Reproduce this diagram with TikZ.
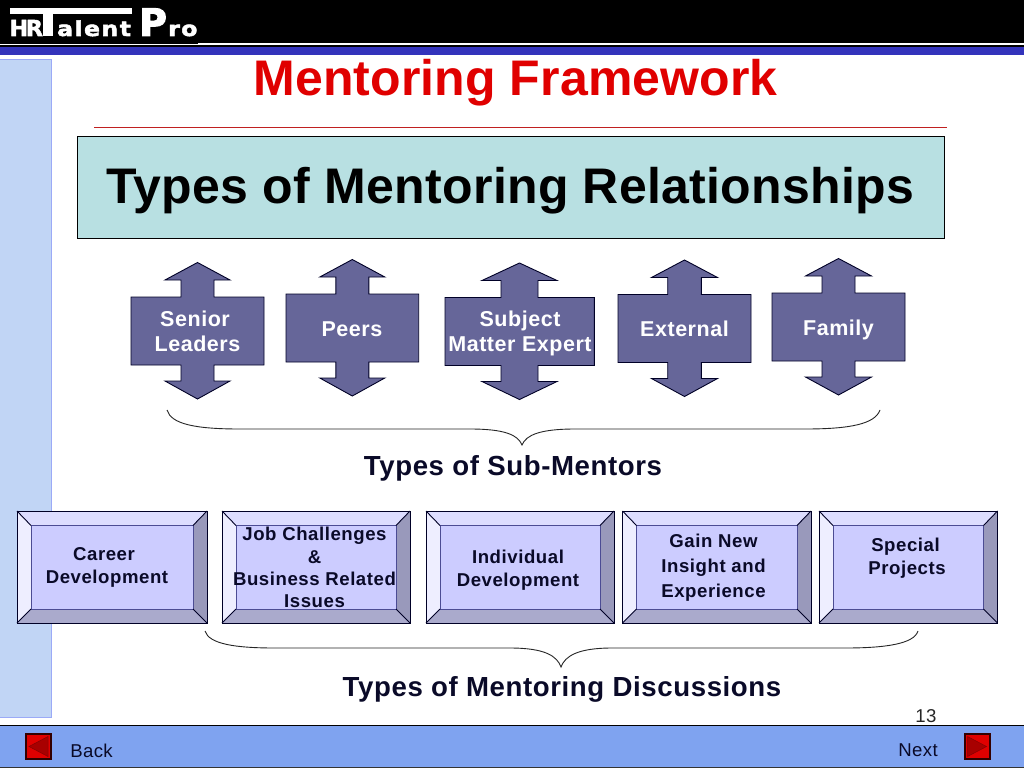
\documentclass[tikz,border=0pt]{standalone}
\usepackage{fontspec}
\setmainfont{Liberation Sans}
\newfontfamily\logofont[FakeBold=2.5]{DejaVu Sans Bold}
\newfontfamily\logowide[FakeBold=2.5,FakeStretch=1.15,LetterSpace=7]{DejaVu Sans Bold}
\newfontfamily\logotight[FakeBold=2.5,LetterSpace=-10]{DejaVu Sans Bold}
\newfontfamily\headfont[LetterSpace=2.2]{Liberation Sans Bold}
\newfontfamily\bigfont[LetterSpace=0.6]{Liberation Sans Bold}
\newfontfamily\titlefont[LetterSpace=0.2]{Liberation Sans Bold}
\newfontfamily\arrowfont[LetterSpace=2.5]{Liberation Sans Bold}
\newfontfamily\bevelfont[LetterSpace=3]{Liberation Sans Bold}
\newfontfamily\navfont[LetterSpace=2]{Liberation Sans}
\definecolor{arrowfill}{HTML}{666699}
\definecolor{faceC}{HTML}{CCCCFF}
\definecolor{topC}{HTML}{DDDDFF}
\definecolor{leftC}{HTML}{EEEEFF}
\definecolor{rightC}{HTML}{9999BB}
\definecolor{botC}{HTML}{AAAACC}
\definecolor{titleC}{HTML}{E00000}
\definecolor{darkT}{HTML}{0A0A28}
\definecolor{footC}{HTML}{7FA3F0}
\definecolor{sideC}{HTML}{C1D5F5}
\definecolor{stripC}{HTML}{3333BB}
\definecolor{tealC}{HTML}{B8E0E2}
\definecolor{navR}{HTML}{E00000}
\definecolor{navD}{HTML}{A80000}
\definecolor{ruleC}{HTML}{C02020}
\tikzset{
  x=1pt,y=-1pt,
  outl/.style={draw=black!85!blue,line width=0.9pt,line join=miter},
  arrowlabel/.style={text=white,font=\arrowfont\fontsize{21.5}{25}\selectfont,align=center,inner sep=0pt},
  bevlabel/.style={text=darkT,font=\bevelfont\fontsize{18.6}{23}\selectfont,align=center,inner sep=0pt},
  headlabel/.style={text=darkT,font=\headfont\fontsize{27.6}{30}\selectfont,inner sep=0pt},
  navlabel/.style={text=darkT,font=\navfont\fontsize{18.6}{22}\selectfont,inner sep=0pt},
  logolabel/.style={text=white,inner sep=0pt,anchor=base west},
  bracepath/.style={draw=black!85,line width=0.9pt},
}
% \arrowbox{cx}{boxtop}{boxleft}{boxright}{shaft half}{wing half}
\newcommand{\arrowbox}[6]{%
  \draw[outl,fill=arrowfill] (#3,#2) -- (#1-#5,#2) -- (#1-#5,#2-17) -- (#1-#6,#2-17)
    -- (#1,#2-34.5) -- (#1+#6,#2-17) -- (#1+#5,#2-17) -- (#1+#5,#2) -- (#4,#2)
    -- (#4,#2+68) -- (#1+#5,#2+68) -- (#1+#5,#2+84) -- (#1+#6,#2+84)
    -- (#1,#2+102) -- (#1-#6,#2+84) -- (#1-#5,#2+84) -- (#1-#5,#2+68) -- (#3,#2+68) -- cycle;}
% \bevelbox{x1}{x2}: y fixed
\newcommand{\bevelbox}[2]{%
  \fill[topC] (#1,511) -- (#2,511) -- (#2-14,525.5) -- (#1+14,525.5) -- cycle;
  \fill[leftC] (#1,511) -- (#1+14,525.5) -- (#1+14,609) -- (#1,623) -- cycle;
  \fill[rightC] (#2,511) -- (#2-14,525.5) -- (#2-14,609) -- (#2,623) -- cycle;
  \fill[botC] (#1,623) -- (#1+14,609) -- (#2-14,609) -- (#2,623) -- cycle;
  \draw[outl,draw=black!60!blue!70!white,fill=faceC] (#1+14,525.5) rectangle (#2-14,609);
  \draw[outl] (#1,511) rectangle (#2,623);
  \draw[outl] (#1,511) -- (#1+14,525.5) (#2,511) -- (#2-14,525.5) (#1,623) -- (#1+14,609) (#2,623) -- (#2-14,609);}
\begin{document}
\begin{tikzpicture}
\useasboundingbox (0,0) rectangle (1024,768);
\fill[white] (0,0) rectangle (1024,768);
% header
\fill[black] (0,0) rectangle (1024,47);
\fill[white] (198,43) rectangle (1024,45);
\fill[white] (0,44) rectangle (198,45);
\fill[stripC] (0,47) rectangle (1024,55.5);
% logo
\fill[white] (10,8) rectangle (132,14);
\fill[white] (43,14) rectangle (53,36);
\node[logolabel] (logoA) at (9.5,36) {\logotight\fontsize{22}{22}\selectfont HR};
\node[logolabel] (logoB) at (57,36) {\logowide\fontsize{20.5}{24}\selectfont alent};
\node[logolabel] (logoC) at (139,36) {\logofont\fontsize{38}{38}\selectfont P};
\node[logolabel] (logoD) at (168,36) {\logowide\fontsize{20.5}{24}\selectfont ro};
% side band
\fill[sideC] (0,59) rectangle (52,717);
\draw[sideC!80!blue,line width=0.6pt] (0,59) -- (51.7,59) -- (51.7,717) -- (0,717);
% title
\node[text=titleC,font=\titlefont\fontsize{50}{52}\selectfont,inner sep=0pt] (title) at (515.5,83) {Mentoring Framework};
\draw[draw=ruleC,line width=0.9pt] (94,127) -- (947,127);
\node[draw=black,line width=0.8pt,fill=tealC,minimum width=867.5pt,minimum height=102pt,inner sep=0pt] (types) at (511,187) {};
\node[text=black,font=\bigfont\fontsize{50}{52}\selectfont,inner sep=0pt] (typest) at (510.5,191) {Types of Mentoring Relationships};
% arrows
\arrowbox{197.5}{297}{131}{264}{16.5}{32.5}
\arrowbox{352.3}{294}{286}{418.7}{16.5}{32.5}
\arrowbox{519.5}{297.5}{445}{594.3}{18.5}{37.5}
\arrowbox{684.5}{294.5}{618}{751}{16.8}{33}
\arrowbox{838.5}{293}{772}{905}{16.5}{33}
\node[arrowlabel] (a1) at (197.5,331.5) {Senior\hspace*{5pt}\\Leaders};
\node[arrowlabel] (a2) at (352,329) {Peers};
\node[arrowlabel] (a3) at (520,333.5) {Subject\\Matter Expert};
\node[arrowlabel] (a4) at (684.5,329) {External};
\node[arrowlabel] (a5) at (838.5,330) {Family};
% brace 1
\draw[bracepath] (167,410) .. controls (171,424) and (195,429) .. (240,429) -- (470,429)
  .. controls (505,429) and (518,435) .. (522,445) .. controls (526,435) and (540,429) .. (575,429)
  -- (805,429) .. controls (850,429) and (875,424) .. (880,410);
\node[headlabel] (sub) at (513,468) {Types of Sub-Mentors};
% bevel boxes
\bevelbox{17}{207}
\bevelbox{222}{410}
\bevelbox{426}{614}
\bevelbox{622.5}{811}
\bevelbox{819}{997.5}
\node[bevlabel] (b1) at (107,567.5) {Career\hspace*{6pt}\\Development};
\node[bevlabel,font=\bevelfont\fontsize{18.6}{22.3}\selectfont] (b2) at (314.5,567.5) {Job Challenges\\\&\\Business Related\\Issues};
\node[bevlabel,font=\bevelfont\fontsize{18.6}{22.5}\selectfont] (b3) at (518,570) {Individual\\Development};
\node[bevlabel,font=\bevelfont\fontsize{18.6}{25}\selectfont] (b4) at (713.5,568) {Gain New\\Insight and\\Experience};
\node[bevlabel] (b5) at (907,558.5) {Special\hspace*{3pt}\\Projects};
% brace 2
\draw[bracepath] (205,631) .. controls (209,644) and (235,648) .. (275,648) -- (510,648)
  .. controls (545,648) and (557,656) .. (561,667) .. controls (565,656) and (578,648) .. (612,648)
  -- (845,648) .. controls (885,648) and (914,644) .. (918,631);
\node[headlabel] (disc) at (562,689) {Types of Mentoring Discussions};
% page number
\node[navlabel,text=black!85] (page) at (926,716) {13};
% footer
\fill[footC] (0,725.5) rectangle (1024,767);
\draw[black,line width=0.9pt] (0,725.5) -- (1024,725.5);
\draw[black!80,line width=0.6pt] (0,767) -- (1024,767);
\node[navlabel] (back) at (91.5,750.5) {Back};
\node[navlabel] (next) at (918,750.5) {Next};
% nav buttons
\draw[draw=black!80!red,line width=2pt,fill=navR] (26,734) rectangle (51,759);
\draw[draw=navD!80!black,line width=0.5pt,fill=navD] (29,746.5) -- (48,736.5) -- (48,756.5) -- cycle;
\draw[draw=black!80!red,line width=2pt,fill=navR] (964.5,734) rectangle (989.5,759);
\draw[draw=navD!80!black,line width=0.5pt,fill=navD] (986.5,746.5) -- (967.5,736.5) -- (967.5,756.5) -- cycle;
\end{tikzpicture}
\end{document}
